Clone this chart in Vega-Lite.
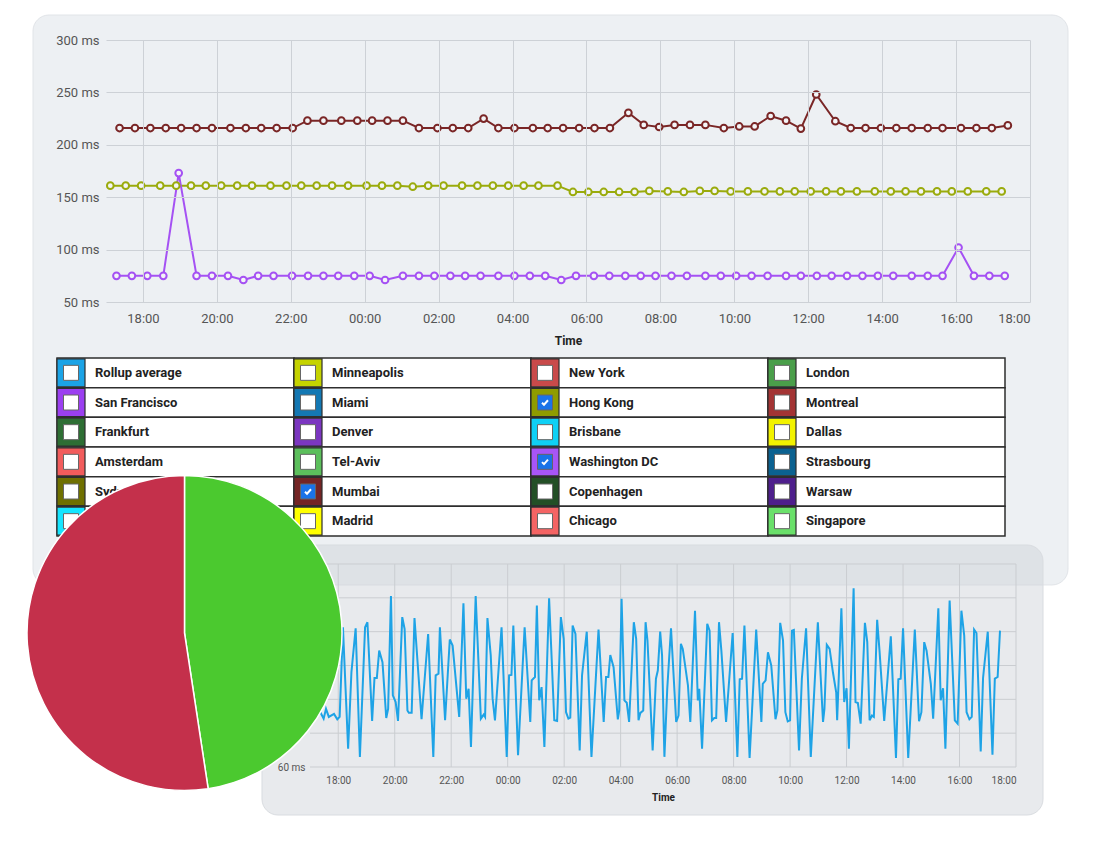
{
  "$schema": "https://vega.github.io/schema/vega-lite/v6.json",
  "autosize": {"type": "none"},
  "padding": {"left": 106, "top": 40, "right": 70, "bottom": 548},
  "width": 924,
  "height": 262,
  "background": "white",
  "config": {"view": {"stroke": null}, "font": "Roboto"},
  "resolve": {"scale": {"x": "independent", "y": "independent", "color": "independent", "fill": "independent"}, "axis": {"x": "independent", "y": "independent"}},
  "layer": [
    {
      "data": {"values": [
      {"c":"Mumbai","t":"2024-05-01T17:22Z","v":216},{"c":"Mumbai","t":"2024-05-01T17:47Z","v":216},{"c":"Mumbai","t":"2024-05-01T18:12Z","v":216},{"c":"Mumbai","t":"2024-05-01T18:37Z","v":216},{"c":"Mumbai","t":"2024-05-01T19:02Z","v":216},{"c":"Mumbai","t":"2024-05-01T19:27Z","v":216},{"c":"Mumbai","t":"2024-05-01T19:52Z","v":216},{"c":"Mumbai","t":"2024-05-01T20:22Z","v":216},{"c":"Mumbai","t":"2024-05-01T20:47Z","v":216},{"c":"Mumbai","t":"2024-05-01T21:12Z","v":216},{"c":"Mumbai","t":"2024-05-01T21:37Z","v":216},{"c":"Mumbai","t":"2024-05-01T22:03Z","v":216},{"c":"Mumbai","t":"2024-05-01T22:27Z","v":223},{"c":"Mumbai","t":"2024-05-01T22:53Z","v":223},{"c":"Mumbai","t":"2024-05-01T23:22Z","v":223},{"c":"Mumbai","t":"2024-05-01T23:48Z","v":223},{"c":"Mumbai","t":"2024-05-02T00:12Z","v":223},{"c":"Mumbai","t":"2024-05-02T00:37Z","v":223},{"c":"Mumbai","t":"2024-05-02T01:02Z","v":223},{"c":"Mumbai","t":"2024-05-02T01:28Z","v":216},{"c":"Mumbai","t":"2024-05-02T01:58Z","v":216},{"c":"Mumbai","t":"2024-05-02T02:23Z","v":216},{"c":"Mumbai","t":"2024-05-02T02:48Z","v":216},{"c":"Mumbai","t":"2024-05-02T03:13Z","v":225},{"c":"Mumbai","t":"2024-05-02T03:37Z","v":216},{"c":"Mumbai","t":"2024-05-02T04:03Z","v":216},{"c":"Mumbai","t":"2024-05-02T04:33Z","v":216},{"c":"Mumbai","t":"2024-05-02T04:57Z","v":216},{"c":"Mumbai","t":"2024-05-02T05:22Z","v":216},{"c":"Mumbai","t":"2024-05-02T05:48Z","v":216},{"c":"Mumbai","t":"2024-05-02T06:13Z","v":216},{"c":"Mumbai","t":"2024-05-02T06:38Z","v":216},{"c":"Mumbai","t":"2024-05-02T07:08Z","v":230.5},{"c":"Mumbai","t":"2024-05-02T07:33Z","v":219},{"c":"Mumbai","t":"2024-05-02T07:58Z","v":217},{"c":"Mumbai","t":"2024-05-02T08:23Z","v":219},{"c":"Mumbai","t":"2024-05-02T08:48Z","v":219},{"c":"Mumbai","t":"2024-05-02T09:13Z","v":219},{"c":"Mumbai","t":"2024-05-02T09:43Z","v":216},{"c":"Mumbai","t":"2024-05-02T10:08Z","v":217.5},{"c":"Mumbai","t":"2024-05-02T10:33Z","v":217.5},{"c":"Mumbai","t":"2024-05-02T10:59Z","v":227.5},{"c":"Mumbai","t":"2024-05-02T11:24Z","v":223},{"c":"Mumbai","t":"2024-05-02T11:48Z","v":215.5},{"c":"Mumbai","t":"2024-05-02T12:13Z","v":248},{"c":"Mumbai","t":"2024-05-02T12:44Z","v":222.5},{"c":"Mumbai","t":"2024-05-02T13:09Z","v":216},{"c":"Mumbai","t":"2024-05-02T13:33Z","v":216},{"c":"Mumbai","t":"2024-05-02T13:58Z","v":216},{"c":"Mumbai","t":"2024-05-02T14:23Z","v":216},{"c":"Mumbai","t":"2024-05-02T14:48Z","v":216},{"c":"Mumbai","t":"2024-05-02T15:14Z","v":216},{"c":"Mumbai","t":"2024-05-02T15:38Z","v":216},{"c":"Mumbai","t":"2024-05-02T16:08Z","v":216},{"c":"Mumbai","t":"2024-05-02T16:33Z","v":216},{"c":"Mumbai","t":"2024-05-02T16:58Z","v":216},{"c":"Mumbai","t":"2024-05-02T17:24Z","v":218.5},
      {"c":"Hong Kong","t":"2024-05-01T17:07Z","v":161},{"c":"Hong Kong","t":"2024-05-01T17:32Z","v":161},{"c":"Hong Kong","t":"2024-05-01T17:57Z","v":161},{"c":"Hong Kong","t":"2024-05-01T18:28Z","v":161},{"c":"Hong Kong","t":"2024-05-01T18:54Z","v":161},{"c":"Hong Kong","t":"2024-05-01T19:18Z","v":161},{"c":"Hong Kong","t":"2024-05-01T19:42Z","v":161},{"c":"Hong Kong","t":"2024-05-01T20:07Z","v":161},{"c":"Hong Kong","t":"2024-05-01T20:33Z","v":161},{"c":"Hong Kong","t":"2024-05-01T20:57Z","v":161},{"c":"Hong Kong","t":"2024-05-01T21:27Z","v":161},{"c":"Hong Kong","t":"2024-05-01T21:53Z","v":161},{"c":"Hong Kong","t":"2024-05-01T22:17Z","v":161},{"c":"Hong Kong","t":"2024-05-01T22:42Z","v":161},{"c":"Hong Kong","t":"2024-05-01T23:07Z","v":161},{"c":"Hong Kong","t":"2024-05-01T23:33Z","v":161},{"c":"Hong Kong","t":"2024-05-02T00:03Z","v":161},{"c":"Hong Kong","t":"2024-05-02T00:28Z","v":161},{"c":"Hong Kong","t":"2024-05-02T00:53Z","v":161},{"c":"Hong Kong","t":"2024-05-02T01:18Z","v":160},{"c":"Hong Kong","t":"2024-05-02T01:43Z","v":161},{"c":"Hong Kong","t":"2024-05-02T02:08Z","v":161},{"c":"Hong Kong","t":"2024-05-02T02:38Z","v":161},{"c":"Hong Kong","t":"2024-05-02T03:03Z","v":161},{"c":"Hong Kong","t":"2024-05-02T03:28Z","v":161},{"c":"Hong Kong","t":"2024-05-02T03:53Z","v":161},{"c":"Hong Kong","t":"2024-05-02T04:18Z","v":161},{"c":"Hong Kong","t":"2024-05-02T04:42Z","v":161},{"c":"Hong Kong","t":"2024-05-02T05:13Z","v":161},{"c":"Hong Kong","t":"2024-05-02T05:38Z","v":155},{"c":"Hong Kong","t":"2024-05-02T06:03Z","v":155},{"c":"Hong Kong","t":"2024-05-02T06:28Z","v":155},{"c":"Hong Kong","t":"2024-05-02T06:53Z","v":155},{"c":"Hong Kong","t":"2024-05-02T07:18Z","v":155},{"c":"Hong Kong","t":"2024-05-02T07:42Z","v":156},{"c":"Hong Kong","t":"2024-05-02T08:12Z","v":155.5},{"c":"Hong Kong","t":"2024-05-02T08:38Z","v":155},{"c":"Hong Kong","t":"2024-05-02T09:04Z","v":156},{"c":"Hong Kong","t":"2024-05-02T09:28Z","v":156},{"c":"Hong Kong","t":"2024-05-02T09:54Z","v":155.5},{"c":"Hong Kong","t":"2024-05-02T10:22Z","v":155.5},{"c":"Hong Kong","t":"2024-05-02T10:49Z","v":155.5},{"c":"Hong Kong","t":"2024-05-02T11:14Z","v":155.5},{"c":"Hong Kong","t":"2024-05-02T11:38Z","v":155.5},{"c":"Hong Kong","t":"2024-05-02T12:04Z","v":155.5},{"c":"Hong Kong","t":"2024-05-02T12:29Z","v":155.5},{"c":"Hong Kong","t":"2024-05-02T12:53Z","v":155.5},{"c":"Hong Kong","t":"2024-05-02T13:19Z","v":155.5},{"c":"Hong Kong","t":"2024-05-02T13:48Z","v":155.5},{"c":"Hong Kong","t":"2024-05-02T14:14Z","v":155.5},{"c":"Hong Kong","t":"2024-05-02T14:38Z","v":155.5},{"c":"Hong Kong","t":"2024-05-02T15:03Z","v":155.5},{"c":"Hong Kong","t":"2024-05-02T15:29Z","v":155.5},{"c":"Hong Kong","t":"2024-05-02T15:53Z","v":155.5},{"c":"Hong Kong","t":"2024-05-02T16:19Z","v":155.5},{"c":"Hong Kong","t":"2024-05-02T16:49Z","v":155.5},{"c":"Hong Kong","t":"2024-05-02T17:14Z","v":155.5},
      {"c":"Washington DC","t":"2024-05-01T17:17Z","v":75},{"c":"Washington DC","t":"2024-05-01T17:42Z","v":75},{"c":"Washington DC","t":"2024-05-01T18:07Z","v":75},{"c":"Washington DC","t":"2024-05-01T18:33Z","v":75},{"c":"Washington DC","t":"2024-05-01T18:58Z","v":173},{"c":"Washington DC","t":"2024-05-01T19:27Z","v":75},{"c":"Washington DC","t":"2024-05-01T19:52Z","v":75},{"c":"Washington DC","t":"2024-05-01T20:18Z","v":75},{"c":"Washington DC","t":"2024-05-01T20:43Z","v":71},{"c":"Washington DC","t":"2024-05-01T21:07Z","v":75},{"c":"Washington DC","t":"2024-05-01T21:32Z","v":75},{"c":"Washington DC","t":"2024-05-01T22:02Z","v":75},{"c":"Washington DC","t":"2024-05-01T22:28Z","v":75},{"c":"Washington DC","t":"2024-05-01T22:53Z","v":75},{"c":"Washington DC","t":"2024-05-01T23:17Z","v":75},{"c":"Washington DC","t":"2024-05-01T23:43Z","v":75},{"c":"Washington DC","t":"2024-05-02T00:08Z","v":75},{"c":"Washington DC","t":"2024-05-02T00:33Z","v":71},{"c":"Washington DC","t":"2024-05-02T01:02Z","v":75},{"c":"Washington DC","t":"2024-05-02T01:28Z","v":75},{"c":"Washington DC","t":"2024-05-02T01:53Z","v":75},{"c":"Washington DC","t":"2024-05-02T02:19Z","v":75},{"c":"Washington DC","t":"2024-05-02T02:43Z","v":75},{"c":"Washington DC","t":"2024-05-02T03:08Z","v":75},{"c":"Washington DC","t":"2024-05-02T03:37Z","v":75},{"c":"Washington DC","t":"2024-05-02T04:03Z","v":75},{"c":"Washington DC","t":"2024-05-02T04:28Z","v":75},{"c":"Washington DC","t":"2024-05-02T04:53Z","v":75},{"c":"Washington DC","t":"2024-05-02T05:19Z","v":71},{"c":"Washington DC","t":"2024-05-02T05:43Z","v":75},{"c":"Washington DC","t":"2024-05-02T06:12Z","v":75},{"c":"Washington DC","t":"2024-05-02T06:37Z","v":75},{"c":"Washington DC","t":"2024-05-02T07:03Z","v":75},{"c":"Washington DC","t":"2024-05-02T07:28Z","v":75},{"c":"Washington DC","t":"2024-05-02T07:52Z","v":75},{"c":"Washington DC","t":"2024-05-02T08:18Z","v":75},{"c":"Washington DC","t":"2024-05-02T08:43Z","v":75},{"c":"Washington DC","t":"2024-05-02T09:13Z","v":75},{"c":"Washington DC","t":"2024-05-02T09:38Z","v":75},{"c":"Washington DC","t":"2024-05-02T10:03Z","v":75},{"c":"Washington DC","t":"2024-05-02T10:28Z","v":75},{"c":"Washington DC","t":"2024-05-02T10:54Z","v":75},{"c":"Washington DC","t":"2024-05-02T11:24Z","v":75},{"c":"Washington DC","t":"2024-05-02T11:48Z","v":75},{"c":"Washington DC","t":"2024-05-02T12:14Z","v":75},{"c":"Washington DC","t":"2024-05-02T12:38Z","v":75},{"c":"Washington DC","t":"2024-05-02T13:03Z","v":75},{"c":"Washington DC","t":"2024-05-02T13:28Z","v":75},{"c":"Washington DC","t":"2024-05-02T13:53Z","v":75},{"c":"Washington DC","t":"2024-05-02T14:18Z","v":75},{"c":"Washington DC","t":"2024-05-02T14:48Z","v":75},{"c":"Washington DC","t":"2024-05-02T15:14Z","v":75},{"c":"Washington DC","t":"2024-05-02T15:38Z","v":75},{"c":"Washington DC","t":"2024-05-02T16:04Z","v":102},{"c":"Washington DC","t":"2024-05-02T16:29Z","v":75},{"c":"Washington DC","t":"2024-05-02T16:54Z","v":75},{"c":"Washington DC","t":"2024-05-02T17:19Z","v":75}
      ]},
      "layer": [
        {"data": {"values": [{"panel": "top"}]},
         "mark": {"type": "rect", "fill": "#d7dee4", "fillOpacity": 0.45, "stroke": "#e1e4e8", "strokeWidth": 1, "cornerRadius": 16},
         "encoding": {
           "x": {"datum": 1714575690000, "type": "temporal", "scale": {"type": "utc", "domain": [1714582800000, 1714672800000], "nice": false},
                 "axis": {"zindex": 1, "format": "%H:%M", "values": [1714586400000,1714593600000,1714600800000,1714608000000,1714615200000,1714622400000,1714629600000,1714636800000,1714644000000,1714651200000,1714658400000,1714665600000,1714672800000], "grid": true, "gridColor": "#cdd1d6", "domain": false, "ticks": false, "labelFontSize": 13, "labelColor": "#555", "labelPadding": 10, "title": "Time", "titleFontSize": 12, "titleFontWeight": "bold", "titleColor": "#222", "titlePadding": 10}},
           "x2": {"datum": 1714676501000},
           "y": {"datum": 323.85, "type": "quantitative", "scale": {"domain": [50, 300], "nice": false, "zero": false},
                 "axis": {"zindex": 1, "values": [50, 100, 150, 200, 250, 300], "labelExpr": "datum.value + ' ms'", "grid": true, "gridColor": "#cdd1d6", "domain": false, "ticks": false, "labelFontSize": 13, "labelColor": "#555", "labelPadding": 7, "title": null}},
           "y2": {"datum": -220}
         }},
        {"mark": {"type": "line", "strokeWidth": 2},
         "encoding": {
           "x": {"field": "t", "type": "temporal", "scale": {"type": "utc", "domain": [1714582800000, 1714672800000], "nice": false},
                 "axis": {"zindex": 1, "format": "%H:%M", "values": [1714586400000,1714593600000,1714600800000,1714608000000,1714615200000,1714622400000,1714629600000,1714636800000,1714644000000,1714651200000,1714658400000,1714665600000,1714672800000], "grid": true, "gridColor": "#cdd1d6", "domain": false, "ticks": false, "labelFontSize": 13, "labelColor": "#555", "labelPadding": 10, "title": "Time", "titleFontSize": 12, "titleFontWeight": "bold", "titleColor": "#222", "titlePadding": 10}},
           "y": {"field": "v", "type": "quantitative", "scale": {"domain": [50, 300], "nice": false, "zero": false},
                 "axis": {"zindex": 1, "values": [50, 100, 150, 200, 250, 300], "labelExpr": "datum.value + ' ms'", "grid": true, "gridColor": "#cdd1d6", "domain": false, "ticks": false, "labelFontSize": 13, "labelColor": "#555", "labelPadding": 7, "title": null}},
           "color": {"field": "c", "type": "nominal", "scale": {"domain": ["Mumbai", "Hong Kong", "Washington DC"], "range": ["#7a2626", "#9aab0c", "#a551f3"]}, "legend": null}
         }},
        {"mark": {"type": "point", "shape": "circle", "size": 45, "strokeWidth": 2, "fill": "#f4f5f7", "opacity": 1},
         "encoding": {
           "x": {"field": "t", "type": "temporal", "scale": {"type": "utc", "domain": [1714582800000, 1714672800000], "nice": false},
                 "axis": {"zindex": 1, "format": "%H:%M", "values": [1714586400000,1714593600000,1714600800000,1714608000000,1714615200000,1714622400000,1714629600000,1714636800000,1714644000000,1714651200000,1714658400000,1714665600000,1714672800000], "grid": true, "gridColor": "#cdd1d6", "domain": false, "ticks": false, "labelFontSize": 13, "labelColor": "#555", "labelPadding": 10, "title": "Time", "titleFontSize": 12, "titleFontWeight": "bold", "titleColor": "#222", "titlePadding": 10}},
           "y": {"field": "v", "type": "quantitative", "scale": {"domain": [50, 300], "nice": false, "zero": false},
                 "axis": {"zindex": 1, "values": [50, 100, 150, 200, 250, 300], "labelExpr": "datum.value + ' ms'", "grid": true, "gridColor": "#cdd1d6", "domain": false, "ticks": false, "labelFontSize": 13, "labelColor": "#555", "labelPadding": 7, "title": null}},
           "color": {"field": "c", "type": "nominal", "scale": {"domain": ["Mumbai", "Hong Kong", "Washington DC"], "range": ["#7a2626", "#9aab0c", "#a551f3"]}, "legend": null}
         }}
      ]
    },
    {
      "data": {"values": [
        {"name":"Rollup average","col":1,"row":1,"on":false},{"name":"Minneapolis","col":2,"row":1,"on":false},{"name":"New York","col":3,"row":1,"on":false},{"name":"London","col":4,"row":1,"on":false},
        {"name":"San Francisco","col":1,"row":2,"on":false},{"name":"Miami","col":2,"row":2,"on":false},{"name":"Hong Kong","col":3,"row":2,"on":true},{"name":"Montreal","col":4,"row":2,"on":false},
        {"name":"Frankfurt","col":1,"row":3,"on":false},{"name":"Denver","col":2,"row":3,"on":false},{"name":"Brisbane","col":3,"row":3,"on":false},{"name":"Dallas","col":4,"row":3,"on":false},
        {"name":"Amsterdam","col":1,"row":4,"on":false},{"name":"Tel-Aviv","col":2,"row":4,"on":false},{"name":"Washington DC","col":3,"row":4,"on":true},{"name":"Strasbourg","col":4,"row":4,"on":false},
        {"name":"Sydney","col":1,"row":5,"on":false},{"name":"Mumbai","col":2,"row":5,"on":true},{"name":"Copenhagen","col":3,"row":5,"on":false},{"name":"Warsaw","col":4,"row":5,"on":false},
        {"name":"Tokyo","col":1,"row":6,"on":false},{"name":"Madrid","col":2,"row":6,"on":false},{"name":"Chicago","col":3,"row":6,"on":false},{"name":"Singapore","col":4,"row":6,"on":false}
      ]},
      "encoding": {
        "x": {"field": "col", "type": "quantitative", "scale": {"domain": [0.5, 4.5], "range": [-49, 899], "nice": false, "zero": false}, "axis": null},
        "y": {"field": "row", "type": "quantitative", "scale": {"domain": [0.5, 6.5], "range": [318, 496], "nice": false, "zero": false}, "axis": null}
      },
      "layer": [
        {"mark": {"type": "point", "shape": "M-1,-0.1252H1V0.1252H-1Z", "size": 56169, "filled": true, "fill": "white", "opacity": 1, "stroke": "#2e2e2e", "strokeWidth": 1.5}, "encoding": {}},
        {"mark": {"type": "point", "shape": "square", "size": 784, "filled": true, "opacity": 1, "stroke": "#2e2e2e", "strokeWidth": 1.2, "xOffset": -104.5},
         "encoding": {"fill": {"field": "name", "type": "nominal", "legend": null,
           "scale": {"domain": ["Rollup average","Minneapolis","New York","London","San Francisco","Miami","Hong Kong","Montreal","Frankfurt","Denver","Brisbane","Dallas","Amsterdam","Tel-Aviv","Washington DC","Strasbourg","Sydney","Mumbai","Copenhagen","Warsaw","Tokyo","Madrid","Chicago","Singapore"],
                     "range": ["#1ba3e6","#c5d300","#c94a4a","#4a9e4a","#9b3ff0","#1478b3","#8f9c00","#a33434","#2e6e34","#7b36c0","#0fd0f5","#f2f200","#f25c5c","#5cbf5c","#a855f7","#0b6190","#6f7000","#742525","#234f26","#4e1f8c","#16e5ff","#ffff00","#f46464","#6ae06a"]}}}},
        {"mark": {"type": "point", "shape": "square", "size": 225, "filled": true, "opacity": 1, "stroke": "#666", "strokeWidth": 1, "xOffset": -104.5},
         "encoding": {"fill": {"condition": {"test": "datum.on", "value": "#1a73e8"}, "value": "white"}}},
        {"transform": [{"filter": "datum.on"}],
         "mark": {"type": "point", "shape": "M-0.6,0.05L-0.2,0.45L0.6,-0.45", "size": 100, "filled": false, "opacity": 1, "stroke": "white", "strokeWidth": 2, "xOffset": -104.5}, "encoding": {}},
        {"mark": {"type": "text", "align": "left", "baseline": "middle", "xOffset": -80.5, "fontSize": 13, "fontWeight": "bold", "color": "#222"},
         "encoding": {"text": {"field": "name"}}}
      ]
    },
    {
      "layer": [
        {"data": {"values": [{"panel": "bottom"}]},
         "mark": {"type": "rect", "fill": "#ccd0d7", "fillOpacity": 0.45, "stroke": "#d9dce0", "strokeWidth": 1, "cornerRadius": 16},
         "encoding": {
           "x": {"datum": 1714576681000, "type": "temporal", "scale": {"type": "utc", "domain": [1714582800000, 1714672800000], "nice": false, "range": [204, 910]},
                 "axis": {"orient": "bottom", "offset": 465, "zindex": 1, "format": "%H:%M", "values": [1714586400000,1714593600000,1714600800000,1714608000000,1714615200000,1714622400000,1714629600000,1714636800000,1714644000000,1714651200000,1714658400000,1714665600000,1714672800000], "grid": false, "domain": false, "ticks": false, "labelFontSize": 10, "labelColor": "#555", "labelPadding": 8, "title": "Time", "titleFontSize": 10, "titleFontWeight": "bold", "titleColor": "#222", "titlePadding": 7}},
           "x2": {"datum": 1714676242000},
           "y": {"datum": 125.62, "type": "quantitative", "scale": {"domain": [60, 120], "nice": false, "zero": false, "range": [727, 524]},
                 "axis": {"orient": "left", "offset": -204, "zindex": 1, "values": [60], "labelExpr": "datum.value + ' ms'", "grid": false, "domain": false, "ticks": false, "labelFontSize": 10, "labelColor": "#555", "labelPadding": 5, "title": null}},
           "y2": {"datum": 45.81}
         }},
        {"data": {"values": [{"g":1714586400000},{"g":1714593600000},{"g":1714600800000},{"g":1714608000000},{"g":1714615200000},{"g":1714622400000},{"g":1714629600000},{"g":1714636800000},{"g":1714644000000},{"g":1714651200000},{"g":1714658400000},{"g":1714665600000},{"g":1714672800000}]},
         "mark": {"type": "rule", "color": "#cacdd1", "strokeWidth": 1},
         "encoding": {
           "x": {"field": "g", "type": "temporal", "scale": {"type": "utc", "domain": [1714582800000, 1714672800000], "nice": false, "range": [204, 910]},
                 "axis": {"orient": "bottom", "offset": 465, "zindex": 1, "format": "%H:%M", "values": [1714586400000,1714593600000,1714600800000,1714608000000,1714615200000,1714622400000,1714629600000,1714636800000,1714644000000,1714651200000,1714658400000,1714665600000,1714672800000], "grid": false, "domain": false, "ticks": false, "labelFontSize": 10, "labelColor": "#555", "labelPadding": 8, "title": "Time", "titleFontSize": 10, "titleFontWeight": "bold", "titleColor": "#222", "titlePadding": 7}},
           "y": {"datum": 60, "type": "quantitative", "scale": {"domain": [60, 120], "nice": false, "zero": false, "range": [727, 524]},
                 "axis": {"orient": "left", "offset": -204, "zindex": 1, "values": [60], "labelExpr": "datum.value + ' ms'", "grid": false, "domain": false, "ticks": false, "labelFontSize": 10, "labelColor": "#555", "labelPadding": 5, "title": null}},
           "y2": {"datum": 120}
         }},
        {"data": {"values": [{"h":60},{"h":70},{"h":80},{"h":90},{"h":100},{"h":110},{"h":120}]},
         "mark": {"type": "rule", "color": "#cacdd1", "strokeWidth": 1},
         "encoding": {
           "y": {"field": "h", "type": "quantitative", "scale": {"domain": [60, 120], "nice": false, "zero": false, "range": [727, 524]},
                 "axis": {"orient": "left", "offset": -204, "zindex": 1, "values": [60], "labelExpr": "datum.value + ' ms'", "grid": false, "domain": false, "ticks": false, "labelFontSize": 10, "labelColor": "#555", "labelPadding": 5, "title": null}},
           "x": {"datum": 1714582800000, "type": "temporal", "scale": {"type": "utc", "domain": [1714582800000, 1714672800000], "nice": false, "range": [204, 910]},
                 "axis": {"orient": "bottom", "offset": 465, "zindex": 1, "format": "%H:%M", "values": [1714586400000,1714593600000,1714600800000,1714608000000,1714615200000,1714622400000,1714629600000,1714636800000,1714644000000,1714651200000,1714658400000,1714665600000,1714672800000], "grid": false, "domain": false, "ticks": false, "labelFontSize": 10, "labelColor": "#555", "labelPadding": 8, "title": "Time", "titleFontSize": 10, "titleFontWeight": "bold", "titleColor": "#222", "titlePadding": 7}},
           "x2": {"datum": 1714672800000}
         }},
        {"data": {"values": [
          {"t":"2024-05-01T17:22Z","v":76.2},{"t":"2024-05-01T17:29Z","v":74.3},{"t":"2024-05-01T17:34Z","v":77.2},{"t":"2024-05-01T17:40Z","v":74.8},{"t":"2024-05-01T17:51Z","v":75.7},{"t":"2024-05-01T17:58Z","v":74.1},{"t":"2024-05-01T18:03Z","v":74.8},{"t":"2024-05-01T18:10Z","v":101.3},{"t":"2024-05-01T18:21Z","v":65.4},{"t":"2024-05-01T18:28Z","v":88.0},{"t":"2024-05-01T18:37Z","v":101.0},{"t":"2024-05-01T18:46Z","v":63.0},{"t":"2024-05-01T18:57Z","v":101.3},{"t":"2024-05-01T19:02Z","v":102.8},{"t":"2024-05-01T19:12Z","v":73.6},{"t":"2024-05-01T19:17Z","v":86.3},{"t":"2024-05-01T19:22Z","v":86.3},{"t":"2024-05-01T19:27Z","v":94.4},{"t":"2024-05-01T19:34Z","v":91.0},{"t":"2024-05-01T19:42Z","v":74.5},{"t":"2024-05-01T19:46Z","v":77.2},{"t":"2024-05-01T19:52Z","v":110.5},{"t":"2024-05-01T19:56Z","v":81.2},{"t":"2024-05-01T20:02Z","v":79.2},{"t":"2024-05-01T20:07Z","v":73.6},{"t":"2024-05-01T20:16Z","v":104.3},{"t":"2024-05-01T20:21Z","v":100.8},{"t":"2024-05-01T20:27Z","v":76.7},{"t":"2024-05-01T20:30Z","v":76.0},{"t":"2024-05-01T20:36Z","v":76.0},{"t":"2024-05-01T20:42Z","v":104.0},{"t":"2024-05-01T20:57Z","v":74.1},{"t":"2024-05-01T21:11Z","v":99.3},{"t":"2024-05-01T21:22Z","v":63.0},{"t":"2024-05-01T21:27Z","v":87.1},{"t":"2024-05-01T21:33Z","v":87.6},{"t":"2024-05-01T21:36Z","v":101.3},{"t":"2024-05-01T21:47Z","v":73.8},{"t":"2024-05-01T21:57Z","v":97.7},{"t":"2024-05-01T22:03Z","v":95.9},{"t":"2024-05-01T22:17Z","v":74.8},{"t":"2024-05-01T22:26Z","v":108.4},{"t":"2024-05-01T22:32Z","v":80.2},{"t":"2024-05-01T22:37Z","v":83.1},{"t":"2024-05-01T22:42Z","v":65.9},{"t":"2024-05-01T22:52Z","v":110.5},{"t":"2024-05-01T23:03Z","v":74.3},{"t":"2024-05-01T23:09Z","v":75.5},{"t":"2024-05-01T23:12Z","v":74.8},{"t":"2024-05-01T23:17Z","v":104.0},{"t":"2024-05-01T23:24Z","v":93.0},{"t":"2024-05-01T23:28Z","v":80.2},{"t":"2024-05-01T23:33Z","v":73.8},{"t":"2024-05-01T23:47Z","v":101.3},{"t":"2024-05-01T23:58Z","v":63.0},
          {"t":"2024-05-02T00:03Z","v":87.1},{"t":"2024-05-02T00:08Z","v":87.2},{"t":"2024-05-02T00:12Z","v":101.8},{"t":"2024-05-02T00:22Z","v":63.5},{"t":"2024-05-02T00:36Z","v":101.3},{"t":"2024-05-02T00:48Z","v":73.3},{"t":"2024-05-02T00:51Z","v":85.6},{"t":"2024-05-02T00:58Z","v":86.6},{"t":"2024-05-02T01:02Z","v":107.7},{"t":"2024-05-02T01:07Z","v":79.7},{"t":"2024-05-02T01:12Z","v":83.6},{"t":"2024-05-02T01:18Z","v":65.9},{"t":"2024-05-02T01:28Z","v":109.9},{"t":"2024-05-02T01:39Z","v":73.8},{"t":"2024-05-02T01:45Z","v":73.6},{"t":"2024-05-02T01:53Z","v":104.3},{"t":"2024-05-02T01:59Z","v":97.9},{"t":"2024-05-02T02:04Z","v":76.2},{"t":"2024-05-02T02:09Z","v":74.3},{"t":"2024-05-02T02:13Z","v":74.6},{"t":"2024-05-02T02:18Z","v":101.8},{"t":"2024-05-02T02:24Z","v":99.3},{"t":"2024-05-02T02:33Z","v":64.9},{"t":"2024-05-02T02:38Z","v":87.1},{"t":"2024-05-02T02:48Z","v":100.0},{"t":"2024-05-02T02:58Z","v":63.0},{"t":"2024-05-02T03:13Z","v":100.6},{"t":"2024-05-02T03:24Z","v":73.3},{"t":"2024-05-02T03:29Z","v":86.6},{"t":"2024-05-02T03:34Z","v":86.6},{"t":"2024-05-02T03:38Z","v":93.1},{"t":"2024-05-02T03:45Z","v":89.5},{"t":"2024-05-02T03:54Z","v":74.1},{"t":"2024-05-02T03:57Z","v":76.7},{"t":"2024-05-02T04:02Z","v":109.7},{"t":"2024-05-02T04:08Z","v":79.7},{"t":"2024-05-02T04:13Z","v":79.0},{"t":"2024-05-02T04:18Z","v":73.3},{"t":"2024-05-02T04:28Z","v":102.8},{"t":"2024-05-02T04:33Z","v":97.9},{"t":"2024-05-02T04:38Z","v":73.8},{"t":"2024-05-02T04:42Z","v":76.0},{"t":"2024-05-02T04:48Z","v":76.7},{"t":"2024-05-02T04:53Z","v":102.8},{"t":"2024-05-02T04:57Z","v":97.4},{"t":"2024-05-02T05:08Z","v":64.9},{"t":"2024-05-02T05:15Z","v":86.1},{"t":"2024-05-02T05:19Z","v":88.5},{"t":"2024-05-02T05:24Z","v":100.0},{"t":"2024-05-02T05:28Z","v":93.0},{"t":"2024-05-02T05:33Z","v":63.0},{"t":"2024-05-02T05:39Z","v":83.1},{"t":"2024-05-02T05:47Z","v":101.0},{"t":"2024-05-02T05:58Z","v":73.3},
          {"t":"2024-05-02T06:03Z","v":75.2},{"t":"2024-05-02T06:08Z","v":96.4},{"t":"2024-05-02T06:12Z","v":94.9},{"t":"2024-05-02T06:23Z","v":84.1},{"t":"2024-05-02T06:28Z","v":73.3},{"t":"2024-05-02T06:38Z","v":106.2},{"t":"2024-05-02T06:44Z","v":79.7},{"t":"2024-05-02T06:47Z","v":83.1},{"t":"2024-05-02T06:53Z","v":65.4},{"t":"2024-05-02T07:04Z","v":102.3},{"t":"2024-05-02T07:09Z","v":100.3},{"t":"2024-05-02T07:14Z","v":73.8},{"t":"2024-05-02T07:19Z","v":74.5},{"t":"2024-05-02T07:23Z","v":74.5},{"t":"2024-05-02T07:29Z","v":102.8},{"t":"2024-05-02T07:34Z","v":94.4},{"t":"2024-05-02T07:44Z","v":73.3},{"t":"2024-05-02T07:58Z","v":99.6},{"t":"2024-05-02T08:08Z","v":63.0},{"t":"2024-05-02T08:13Z","v":85.9},{"t":"2024-05-02T08:18Z","v":86.1},{"t":"2024-05-02T08:23Z","v":101.8},{"t":"2024-05-02T08:34Z","v":62.7},{"t":"2024-05-02T08:48Z","v":100.6},{"t":"2024-05-02T08:59Z","v":73.3},{"t":"2024-05-02T09:02Z","v":84.6},{"t":"2024-05-02T09:08Z","v":85.6},{"t":"2024-05-02T09:13Z","v":93.9},{"t":"2024-05-02T09:20Z","v":90.0},{"t":"2024-05-02T09:29Z","v":74.1},{"t":"2024-05-02T09:33Z","v":76.7},{"t":"2024-05-02T09:39Z","v":102.6},{"t":"2024-05-02T09:45Z","v":97.4},{"t":"2024-05-02T09:50Z","v":76.2},{"t":"2024-05-02T09:55Z","v":73.5},{"t":"2024-05-02T10:00Z","v":73.8},{"t":"2024-05-02T10:04Z","v":100.3},{"t":"2024-05-02T10:08Z","v":100.5},{"t":"2024-05-02T10:19Z","v":64.9},{"t":"2024-05-02T10:25Z","v":86.1},{"t":"2024-05-02T10:34Z","v":101.0},{"t":"2024-05-02T10:44Z","v":63.0},{"t":"2024-05-02T10:59Z","v":102.8},{"t":"2024-05-02T11:10Z","v":73.3},{"t":"2024-05-02T11:13Z","v":77.2},{"t":"2024-05-02T11:18Z","v":96.1},{"t":"2024-05-02T11:24Z","v":94.9},{"t":"2024-05-02T11:31Z","v":88.0},{"t":"2024-05-02T11:38Z","v":82.1},{"t":"2024-05-02T11:40Z","v":73.8},{"t":"2024-05-02T11:49Z","v":106.9},{"t":"2024-05-02T11:55Z","v":79.2},
          {"t":"2024-05-02T12:00Z","v":83.3},{"t":"2024-05-02T12:05Z","v":65.4},{"t":"2024-05-02T12:15Z","v":112.8},{"t":"2024-05-02T12:19Z","v":79.2},{"t":"2024-05-02T12:24Z","v":78.9},{"t":"2024-05-02T12:30Z","v":72.8},{"t":"2024-05-02T12:39Z","v":102.6},{"t":"2024-05-02T12:44Z","v":96.9},{"t":"2024-05-02T12:49Z","v":73.8},{"t":"2024-05-02T12:54Z","v":75.2},{"t":"2024-05-02T12:58Z","v":74.8},{"t":"2024-05-02T13:05Z","v":103.5},{"t":"2024-05-02T13:10Z","v":94.4},{"t":"2024-05-02T13:20Z","v":73.6},{"t":"2024-05-02T13:34Z","v":98.6},{"t":"2024-05-02T13:45Z","v":62.7},{"t":"2024-05-02T13:50Z","v":85.9},{"t":"2024-05-02T13:55Z","v":86.1},{"t":"2024-05-02T14:00Z","v":101.0},{"t":"2024-05-02T14:11Z","v":62.7},{"t":"2024-05-02T14:25Z","v":100.6},{"t":"2024-05-02T14:34Z","v":73.5},{"t":"2024-05-02T14:39Z","v":76.2},{"t":"2024-05-02T14:45Z","v":96.9},{"t":"2024-05-02T14:50Z","v":94.4},{"t":"2024-05-02T14:59Z","v":84.6},{"t":"2024-05-02T15:04Z","v":74.3},{"t":"2024-05-02T15:15Z","v":106.9},{"t":"2024-05-02T15:20Z","v":79.7},{"t":"2024-05-02T15:25Z","v":83.3},{"t":"2024-05-02T15:30Z","v":65.4},{"t":"2024-05-02T15:39Z","v":109.2},{"t":"2024-05-02T15:50Z","v":73.8},{"t":"2024-05-02T15:56Z","v":72.8},{"t":"2024-05-02T16:04Z","v":106.2},{"t":"2024-05-02T16:10Z","v":98.8},{"t":"2024-05-02T16:15Z","v":76.2},{"t":"2024-05-02T16:21Z","v":74.1},{"t":"2024-05-02T16:26Z","v":74.8},{"t":"2024-05-02T16:31Z","v":100.6},{"t":"2024-05-02T16:36Z","v":99.6},{"t":"2024-05-02T16:45Z","v":64.6},{"t":"2024-05-02T16:50Z","v":86.3},{"t":"2024-05-02T17:00Z","v":100.0},{"t":"2024-05-02T17:10Z","v":63.6},{"t":"2024-05-02T17:15Z","v":86.1},{"t":"2024-05-02T17:21Z","v":86.6},{"t":"2024-05-02T17:26Z","v":100.3}
         ]},
         "mark": {"type": "line", "strokeWidth": 2, "color": "#1ea3e6"},
         "encoding": {
           "x": {"field": "t", "type": "temporal", "scale": {"type": "utc", "domain": [1714582800000, 1714672800000], "nice": false, "range": [204, 910]},
                 "axis": {"orient": "bottom", "offset": 465, "zindex": 1, "format": "%H:%M", "values": [1714586400000,1714593600000,1714600800000,1714608000000,1714615200000,1714622400000,1714629600000,1714636800000,1714644000000,1714651200000,1714658400000,1714665600000,1714672800000], "grid": false, "domain": false, "ticks": false, "labelFontSize": 10, "labelColor": "#555", "labelPadding": 8, "title": "Time", "titleFontSize": 10, "titleFontWeight": "bold", "titleColor": "#222", "titlePadding": 7}},
           "y": {"field": "v", "type": "quantitative", "scale": {"domain": [60, 120], "nice": false, "zero": false, "range": [727, 524]},
                 "axis": {"orient": "left", "offset": -204, "zindex": 1, "values": [60], "labelExpr": "datum.value + ' ms'", "grid": false, "domain": false, "ticks": false, "labelFontSize": 10, "labelColor": "#555", "labelPadding": 5, "title": null}}
         }},
        {"data": {"values": [{"part": "a", "share": 47.6}, {"part": "b", "share": 52.4}]},
         "mark": {"type": "arc", "radius": 157.5, "stroke": "white", "strokeWidth": 1.5},
         "encoding": {
           "x": {"datum": 1714566801000, "type": "temporal", "scale": {"type": "utc", "domain": [1714582800000, 1714672800000], "nice": false, "range": [204, 910]},
                 "axis": {"orient": "bottom", "offset": 465, "zindex": 1, "format": "%H:%M", "values": [1714586400000,1714593600000,1714600800000,1714608000000,1714615200000,1714622400000,1714629600000,1714636800000,1714644000000,1714651200000,1714658400000,1714665600000,1714672800000], "grid": false, "domain": false, "ticks": false, "labelFontSize": 10, "labelColor": "#555", "labelPadding": 8, "title": "Time", "titleFontSize": 10, "titleFontWeight": "bold", "titleColor": "#222", "titlePadding": 7}},
           "y": {"datum": 99.61, "type": "quantitative", "scale": {"domain": [60, 120], "nice": false, "zero": false, "range": [727, 524]},
                 "axis": {"orient": "left", "offset": -204, "zindex": 1, "values": [60], "labelExpr": "datum.value + ' ms'", "grid": false, "domain": false, "ticks": false, "labelFontSize": 10, "labelColor": "#555", "labelPadding": 5, "title": null}},
           "theta": {"field": "share", "type": "quantitative", "stack": true},
           "color": {"field": "part", "type": "nominal", "scale": {"domain": ["a", "b"], "range": ["#4bc92f", "#c4304b"]}, "legend": null}
         }}
      ]
    }
  ]
}
